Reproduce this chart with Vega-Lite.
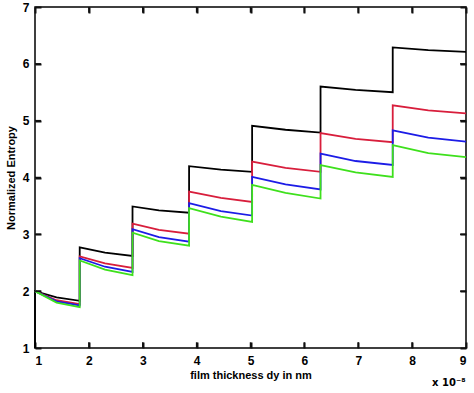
{
  "$schema": "https://vega.github.io/schema/vega-lite/v6.json",
  "width": 431,
  "height": 341,
  "autosize": "none",
  "padding": {"left": 35, "top": 7, "right": 8, "bottom": 45},
  "background": "white",
  "title": {"text": "x 10⁻⁸", "orient": "bottom", "anchor": "end", "fontSize": 10, "fontWeight": "bold", "font": "DejaVu Sans", "color": "black", "offset": -2, "dx": -4},
  "config": {
    "view": {"stroke": "black", "strokeWidth": 1.5},
    "axis": {
      "domain": false,
      "grid": false,
      "labelFont": "Liberation Sans",
      "labelFontSize": 12,
      "labelFontWeight": "bold",
      "labelColor": "black",
      "titleFont": "Liberation Sans",
      "titleFontSize": 11,
      "titleFontWeight": "bold",
      "titleColor": "black"
    }
  },
  "datasets": {
    "xt": [{"v":2},{"v":3},{"v":4},{"v":5},{"v":6},{"v":7},{"v":8}],
    "yt": [{"v":2},{"v":3},{"v":4},{"v":5},{"v":6}],
    "lines": [
    {"s":"black","i":0,"x":1,"y":1},
    {"s":"black","i":1,"x":1,"y":2.0},
    {"s":"black","i":2,"x":1.4,"y":1.89},
    {"s":"black","i":3,"x":1.83,"y":1.83},
    {"s":"black","i":4,"x":1.83,"y":2.77},
    {"s":"black","i":5,"x":2.3,"y":2.68},
    {"s":"black","i":6,"x":2.81,"y":2.62},
    {"s":"black","i":7,"x":2.81,"y":3.49},
    {"s":"black","i":8,"x":3.3,"y":3.42},
    {"s":"black","i":9,"x":3.86,"y":3.38},
    {"s":"black","i":10,"x":3.86,"y":4.2},
    {"s":"black","i":11,"x":4.45,"y":4.14},
    {"s":"black","i":12,"x":5.03,"y":4.1},
    {"s":"black","i":13,"x":5.03,"y":4.91},
    {"s":"black","i":14,"x":5.65,"y":4.84},
    {"s":"black","i":15,"x":6.3,"y":4.79},
    {"s":"black","i":16,"x":6.3,"y":5.6},
    {"s":"black","i":17,"x":6.95,"y":5.54},
    {"s":"black","i":18,"x":7.64,"y":5.5},
    {"s":"black","i":19,"x":7.64,"y":6.29},
    {"s":"black","i":20,"x":8.3,"y":6.24},
    {"s":"black","i":21,"x":9,"y":6.21},

    {"s":"red","i":1,"x":1,"y":2.0},
    {"s":"red","i":2,"x":1.4,"y":1.84},
    {"s":"red","i":3,"x":1.83,"y":1.77},
    {"s":"red","i":4,"x":1.83,"y":2.61},
    {"s":"red","i":5,"x":2.3,"y":2.49},
    {"s":"red","i":6,"x":2.81,"y":2.41},
    {"s":"red","i":7,"x":2.81,"y":3.19},
    {"s":"red","i":8,"x":3.3,"y":3.08},
    {"s":"red","i":9,"x":3.86,"y":3.01},
    {"s":"red","i":10,"x":3.86,"y":3.75},
    {"s":"red","i":11,"x":4.45,"y":3.64},
    {"s":"red","i":12,"x":5.03,"y":3.57},
    {"s":"red","i":13,"x":5.03,"y":4.28},
    {"s":"red","i":14,"x":5.65,"y":4.17},
    {"s":"red","i":15,"x":6.3,"y":4.1},
    {"s":"red","i":16,"x":6.3,"y":4.78},
    {"s":"red","i":17,"x":6.95,"y":4.68},
    {"s":"red","i":18,"x":7.64,"y":4.62},
    {"s":"red","i":19,"x":7.64,"y":5.27},
    {"s":"red","i":20,"x":8.3,"y":5.18},
    {"s":"red","i":21,"x":9,"y":5.13},

    {"s":"blue","i":1,"x":1,"y":2.0},
    {"s":"blue","i":2,"x":1.4,"y":1.82},
    {"s":"blue","i":3,"x":1.83,"y":1.75},
    {"s":"blue","i":4,"x":1.83,"y":2.58},
    {"s":"blue","i":5,"x":2.3,"y":2.43},
    {"s":"blue","i":6,"x":2.81,"y":2.34},
    {"s":"blue","i":7,"x":2.81,"y":3.09},
    {"s":"blue","i":8,"x":3.3,"y":2.95},
    {"s":"blue","i":9,"x":3.86,"y":2.87},
    {"s":"blue","i":10,"x":3.86,"y":3.55},
    {"s":"blue","i":11,"x":4.45,"y":3.41},
    {"s":"blue","i":12,"x":5.03,"y":3.33},
    {"s":"blue","i":13,"x":5.03,"y":4.01},
    {"s":"blue","i":14,"x":5.65,"y":3.88},
    {"s":"blue","i":15,"x":6.3,"y":3.79},
    {"s":"blue","i":16,"x":6.3,"y":4.42},
    {"s":"blue","i":17,"x":6.95,"y":4.29},
    {"s":"blue","i":18,"x":7.64,"y":4.22},
    {"s":"blue","i":19,"x":7.64,"y":4.83},
    {"s":"blue","i":20,"x":8.3,"y":4.7},
    {"s":"blue","i":21,"x":9,"y":4.63},

    {"s":"green","i":1,"x":1,"y":2.0},
    {"s":"green","i":2,"x":1.4,"y":1.8},
    {"s":"green","i":3,"x":1.83,"y":1.72},
    {"s":"green","i":4,"x":1.83,"y":2.54},
    {"s":"green","i":5,"x":2.3,"y":2.38},
    {"s":"green","i":6,"x":2.81,"y":2.28},
    {"s":"green","i":7,"x":2.81,"y":3.03},
    {"s":"green","i":8,"x":3.3,"y":2.88},
    {"s":"green","i":9,"x":3.86,"y":2.8},
    {"s":"green","i":10,"x":3.86,"y":3.46},
    {"s":"green","i":11,"x":4.45,"y":3.31},
    {"s":"green","i":12,"x":5.03,"y":3.22},
    {"s":"green","i":13,"x":5.03,"y":3.87},
    {"s":"green","i":14,"x":5.65,"y":3.73},
    {"s":"green","i":15,"x":6.3,"y":3.63},
    {"s":"green","i":16,"x":6.3,"y":4.22},
    {"s":"green","i":17,"x":6.95,"y":4.09},
    {"s":"green","i":18,"x":7.64,"y":4.01},
    {"s":"green","i":19,"x":7.64,"y":4.57},
    {"s":"green","i":20,"x":8.3,"y":4.43},
    {"s":"green","i":21,"x":9,"y":4.36}
  ]},
  "resolve": {"axis": {"x": "independent", "y": "independent"}},
  "layer": [
    {
      "data": {"name": "lines"},
      "transform": [{"filter": "datum.s === 'black'"}],
      "mark": {"type": "line", "color": "#000000", "strokeWidth": 1.8},
      "encoding": {
        "x": {"field": "x", "type": "quantitative", "scale": {"domain": [1, 9], "nice": false},
              "axis": {"title": "film thickness dy in nm", "tickCount": 8, "tickSize": 6, "offset": -6, "tickColor": "#111111", "tickWidth": 2, "labelPadding": 7, "titlePadding": 3}},
        "y": {"field": "y", "type": "quantitative", "scale": {"domain": [1, 7], "nice": false},
              "axis": {"title": "Normalized Entropy", "tickCount": 6, "tickSize": 6, "offset": -6, "tickColor": "#111111", "tickWidth": 2, "labelPadding": 6, "titlePadding": 6}},
        "order": {"field": "i", "type": "quantitative"}
      }
    },
    {
      "data": {"name": "lines"},
      "transform": [{"filter": "datum.s === 'red'"}],
      "mark": {"type": "line", "color": "#d81e3c", "strokeWidth": 1.8},
      "encoding": {
        "x": {"field": "x", "type": "quantitative", "axis": null},
        "y": {"field": "y", "type": "quantitative", "axis": null},
        "order": {"field": "i", "type": "quantitative"}
      }
    },
    {
      "data": {"name": "lines"},
      "transform": [{"filter": "datum.s === 'blue'"}],
      "mark": {"type": "line", "color": "#1c1ce6", "strokeWidth": 1.8},
      "encoding": {
        "x": {"field": "x", "type": "quantitative", "axis": null},
        "y": {"field": "y", "type": "quantitative", "axis": null},
        "order": {"field": "i", "type": "quantitative"}
      }
    },
    {
      "data": {"name": "lines"},
      "transform": [{"filter": "datum.s === 'green'"}],
      "mark": {"type": "line", "color": "#3ee01c", "strokeWidth": 1.8},
      "encoding": {
        "x": {"field": "x", "type": "quantitative",
              "axis": {"orient": "top", "labels": false, "title": null, "tickCount": 8, "tickSize": 6, "offset": -6, "tickColor": "#111111", "tickWidth": 2}},
        "y": {"field": "y", "type": "quantitative",
              "axis": {"orient": "right", "labels": false, "title": null, "tickCount": 6, "tickSize": 6, "offset": -6, "tickColor": "#111111", "tickWidth": 2}},
        "order": {"field": "i", "type": "quantitative"}
      }
    },
    {
      "data": {"name": "xt"},
      "mark": {"type": "rule", "color": "#111111", "strokeWidth": 1.5},
      "encoding": {
        "x": {"field": "v", "type": "quantitative", "axis": null},
        "y": {"datum": 1, "type": "quantitative", "axis": null},
        "y2": {"datum": 1.1}
      }
    },
    {
      "data": {"name": "xt"},
      "mark": {"type": "rule", "color": "#111111", "strokeWidth": 1.5},
      "encoding": {
        "x": {"field": "v", "type": "quantitative", "axis": null},
        "y": {"datum": 7, "type": "quantitative", "axis": null},
        "y2": {"datum": 6.9}
      }
    },
    {
      "data": {"name": "yt"},
      "mark": {"type": "rule", "color": "#111111", "strokeWidth": 1.5},
      "encoding": {
        "y": {"field": "v", "type": "quantitative", "axis": null},
        "x": {"datum": 1, "type": "quantitative", "axis": null},
        "x2": {"datum": 1.11}
      }
    },
    {
      "data": {"name": "yt"},
      "mark": {"type": "rule", "color": "#111111", "strokeWidth": 1.5},
      "encoding": {
        "y": {"field": "v", "type": "quantitative", "axis": null},
        "x": {"datum": 9, "type": "quantitative", "axis": null},
        "x2": {"datum": 8.89}
      }
    }
  ]
}
